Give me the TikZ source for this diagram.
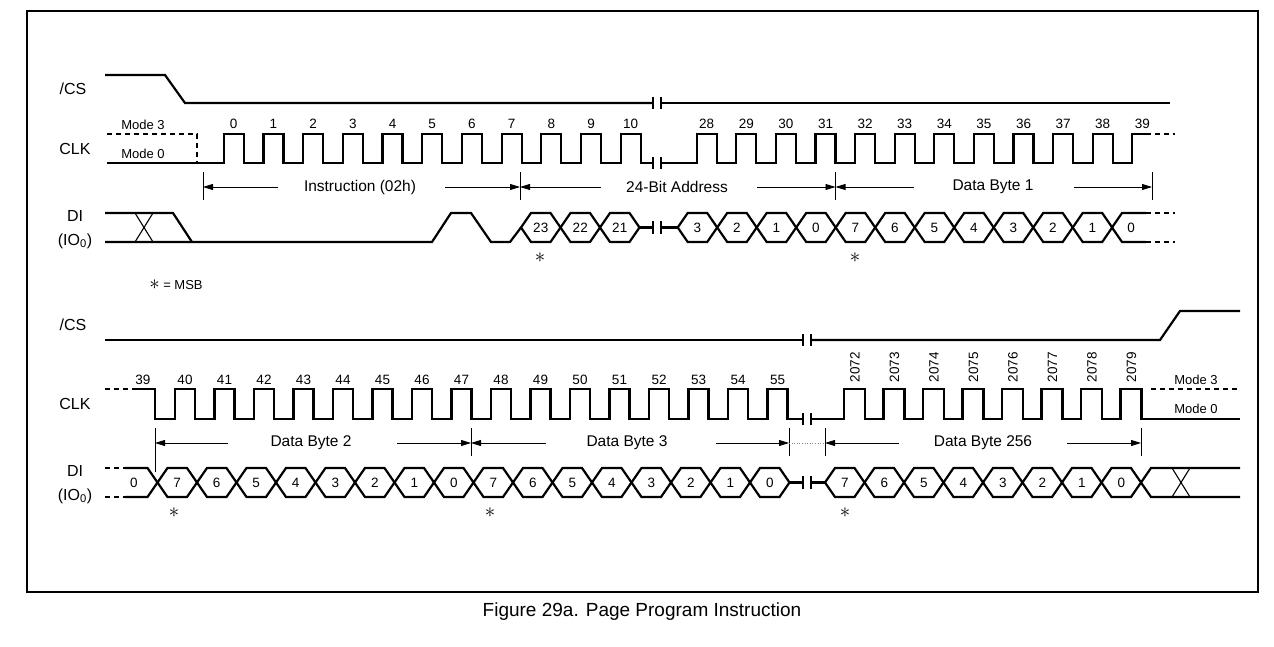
\documentclass[tikz,border=0pt]{standalone}
\usepackage{fontspec}
\setmainfont{Liberation Sans}
\usetikzlibrary{arrows.meta}
\begin{document}
\begin{tikzpicture}[x=1pt,y=-1pt,
  sig/.style={line width=2.2pt,line join=miter,line cap=butt},
  thin/.style={line width=1.1pt},
  dsh/.style={line width=2.2pt,dash pattern=on 5pt off 4pt},
  brk/.style={line width=1.1pt},
  dim/.style={line width=0.8pt,-{Triangle[length=10pt,width=6pt]}},
  tick/.style={line width=0.8pt},
  lab/.style={font=\fontsize{16}{18}\selectfont},
  num/.style={font=\fontsize{13.5}{15}\selectfont},
  md/.style={font=\fontsize{13}{15}\selectfont},
  ann/.style={font=\fontsize{15.5}{18}\selectfont,fill=white,inner sep=1pt},
  hex/.style={font=\fontsize{13.5}{15}\selectfont}]
\useasboundingbox (0,0) rectangle (1274,647);
\draw[line width=1.4pt] (27,11) rectangle (1258,592);
\node[font=\fontsize{19}{22}\selectfont] (cap) at (642,612) {Figure 29a. Page Program Instruction};

% ---------- labels top
\node[lab] (cs1) at (73,89) {/CS};
\node[lab] (clk1) at (75,149) {CLK};
\node[lab] (di1) at (75,216) {DI};
\node[lab] (io1) at (75,241) {(IO$_{\mathrm{0}}$)};
\node[md] (m3a) at (143,125) {Mode 3};
\node[md] (m0a) at (143,154) {Mode 0};
\node[font=\fontsize{13}{15}\selectfont] (msb) at (176,285) {{\fontsize{20}{20}\selectfont$\ast$} = MSB};

% ---------- /CS top
\draw[sig] (105,75) -- (165,75) -- (185,103) -- (653,103);
\draw[sig] (661,103) -- (1170,103);
\draw[brk] (653,97) -- (653,109) (661,97) -- (661,109);

% ---------- CLK top
\draw[dsh] (107,134) -- (197,134) -- (197,163);
\draw[sig] (107,163) \foreach \k in {0,...,10}{ -- ({223.7+39.7*\k},163) -- ({223.7+39.7*\k},134) -- ({243.7+39.7*\k},134) -- ({243.7+39.7*\k},163)} -- (653,163);
\foreach \k in {0,...,10}{\node[num] at ({233.7+39.7*\k},124) {\k};}
\draw[sig] (661,163) \foreach \k in {28,...,38}{ -- ({696.7+39.6*(\k-28)},163) -- ({696.7+39.6*(\k-28)},134) -- ({716.7+39.6*(\k-28)},134) -- ({716.7+39.6*(\k-28)},163)} -- (1132.3,163) -- (1132.3,134) -- (1146,134);
\draw[dsh] (1146,134) -- (1175,134);
\foreach \k in {28,...,39}{\node[num] at ({706.7+39.6*(\k-28)},124) {\k};}
\draw[brk] (653,157) -- (653,169) (661,157) -- (661,169);

% ---------- dims top
\draw[tick] (203,172) -- (203,200) (520,172) -- (520,200) (835.5,172) -- (835.5,200) (1152,172) -- (1152,200);
\node[ann] (t1) at (360,187) {Instruction (02h)};
\draw[dim] (278,187) -- (203,187);
\draw[dim] (445,187) -- (520,187);
\node[ann] (t2) at (677,187) {24-Bit Address};
\draw[dim] (601,187) -- (520,187);
\draw[dim] (757,187) -- (835.5,187);
\node[ann] (t3) at (993,187) {Data Byte 1};
\draw[dim] (914,187) -- (835.5,187);
\draw[dim] (1074,187) -- (1152,187);

% ---------- DI top
\draw[sig] (105,213) -- (173,213) -- (192,242);
\draw[sig] (105,242) -- (432,242) -- (451,213) -- (471,213) -- (491,242) -- (510,242) -- (521,227.5);
\draw[thin] (135,213) -- (153,242) (135,242) -- (153,213);
\foreach \l [count=\k from 0] in {23,22,21}{
  \draw[sig] ({521+39.5*\k},227.5) -- ({531+39.5*\k},213) -- ({550.5+39.5*\k},213) -- ({560.5+39.5*\k},227.5) -- ({550.5+39.5*\k},242) -- ({531+39.5*\k},242) -- cycle;
  \node[hex] at ({540.75+39.5*\k},228) {\l};}
\draw[sig] (639.5,227.5) -- (653,227.5);
\draw[sig] (661,227.5) -- (677.7,227.5);
\draw[brk] (653,221) -- (653,234) (661,221) -- (661,234);
\foreach \l [count=\k from 0] in {3,2,1,0,7,6,5,4,3,2,1}{
  \draw[sig] ({677.7+39.5*\k},227.5) -- ({687.7+39.5*\k},213) -- ({707.2+39.5*\k},213) -- ({717.2+39.5*\k},227.5) -- ({707.2+39.5*\k},242) -- ({687.7+39.5*\k},242) -- cycle;
  \node[hex] at ({697.45+39.5*\k},228) {\l};}
\draw[sig] (1146,213) -- (1122,213) -- (1112,227.5) -- (1122,242) -- (1146,242);
\node[hex] at (1131,228) {0};
\draw[dsh] (1146,213) -- (1175,213) (1146,242) -- (1175,242);
\node[font=\fontsize{20}{20}\selectfont] at (540,258) {$\ast$};
\node[font=\fontsize{20}{20}\selectfont] at (855,258) {$\ast$};

% ---------- labels bottom
\node[lab] (cs2) at (73,325) {/CS};
\node[lab] (clk2) at (75,404) {CLK};
\node[lab] (di2) at (75,471) {DI};
\node[lab] (io2) at (75,496) {(IO$_{\mathrm{0}}$)};
\node[md] (m3b) at (1196,380) {Mode 3};
\node[md] (m0b) at (1196,409) {Mode 0};

% ---------- /CS bottom
\draw[sig] (105,340) -- (803,340);
\draw[sig] (811,340) -- (1160,340) -- (1180,311) -- (1240,311);
\draw[brk] (803,334) -- (803,346) (811,334) -- (811,346);

% ---------- CLK bottom
\draw[dsh] (105,389) -- (135,389);
\draw[sig] (135,389) -- (155,389) -- (155,419) \foreach \k in {40,...,55}{ -- ({175+39.5*(\k-40)},419) -- ({175+39.5*(\k-40)},389) -- ({195+39.5*(\k-40)},389) -- ({195+39.5*(\k-40)},419)} -- (803,419);
\node[num] at (143,380) {39};
\foreach \k in {40,...,55}{\node[num] at ({185+39.5*(\k-40)},380) {\k};}
\draw[sig] (811,419) \foreach \k in {0,...,7}{ -- ({844+39.5*\k},419) -- ({844+39.5*\k},389) -- ({865+39.5*\k},389) -- ({865+39.5*\k},419)} -- (1240,419);
\draw[dsh] (1151,389) -- (1240,389);
\foreach \k in {0,...,7}{\pgfmathtruncatemacro\n{2072+\k}\node[num,rotate=90,anchor=west] at ({855+39.5*\k},386) {\n};}
\draw[brk] (803,413) -- (803,425) (811,413) -- (811,425);

% ---------- dims bottom
\draw[tick] (155,428) -- (155,472) (471,428) -- (471,456) (789,428) -- (789,456) (825,428) -- (825,456) (1141,428) -- (1141,456);
\draw[line width=0.6pt,gray,dotted] (789,443) -- (825,443);
\node[ann] (b1) at (311,443) {Data Byte 2};
\draw[dim] (228,443) -- (155,443);
\draw[dim] (397,443) -- (471,443);
\node[ann] (b2) at (627,443) {Data Byte 3};
\draw[dim] (546,443) -- (471,443);
\draw[dim] (716,443) -- (789,443);
\node[ann] (b3) at (983,443) {Data Byte 256};
\draw[dim] (899,443) -- (825,443);
\draw[dim] (1067,443) -- (1141,443);

% ---------- DI bottom
\draw[dsh] (105,468) -- (125,468) (105,497) -- (125,497);
\draw[sig] (125,468) -- (147.5,468) -- (157.5,482.5) -- (147.5,497) -- (125,497);
\node[hex] at (134,483) {0};
\foreach \l [count=\k from 0] in {7,6,5,4,3,2,1,0,7,6,5,4,3,2,1,0}{
  \draw[sig] ({157.5+39.5*\k},482.5) -- ({167.5+39.5*\k},468) -- ({187+39.5*\k},468) -- ({197+39.5*\k},482.5) -- ({187+39.5*\k},497) -- ({167.5+39.5*\k},497) -- cycle;
  \node[hex] at ({177.25+39.5*\k},483) {\l};}
\draw[sig] (789.5,482.5) -- (803,482.5);
\draw[sig] (811,482.5) -- (825,482.5);
\draw[brk] (803,476) -- (803,489) (811,476) -- (811,489);
\foreach \l [count=\k from 0] in {7,6,5,4,3,2,1,0}{
  \draw[sig] ({825+39.5*\k},482.5) -- ({835+39.5*\k},468) -- ({854.5+39.5*\k},468) -- ({864.5+39.5*\k},482.5) -- ({854.5+39.5*\k},497) -- ({835+39.5*\k},497) -- cycle;
  \node[hex] at ({844.75+39.5*\k},483) {\l};}
\draw[sig] (1141,482.5) -- (1151,468) -- (1240,468);
\draw[sig] (1141,482.5) -- (1151,497) -- (1240,497);
\draw[thin] (1172,468) -- (1190,497) (1172,497) -- (1190,468);
\node[font=\fontsize{20}{20}\selectfont] at (174,513) {$\ast$};
\node[font=\fontsize{20}{20}\selectfont] at (490,513) {$\ast$};
\node[font=\fontsize{20}{20}\selectfont] at (845,513) {$\ast$};
\end{tikzpicture}
\end{document}
